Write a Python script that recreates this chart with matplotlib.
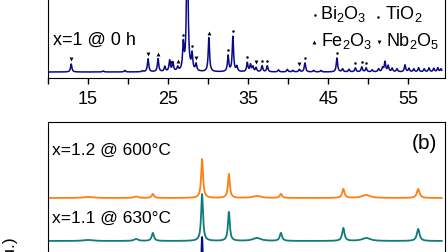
import numpy as np
import matplotlib
matplotlib.use('Agg')
import matplotlib.pyplot as plt

plt.rcParams['font.family'] = ['Liberation Sans', 'DejaVu Sans']
plt.rcParams['mathtext.default'] = 'regular'

# --- data: panel (a), x=1 @ 0 h (peak position in 2theta, height in a.u.)
a_pos = [12.9, 16.9, 19.6, 21.8, 22.5, 23.75, 24.6, 25.2, 25.6, 26.2, 26.9, 27.4,
         28.0, 28.5, 30.1, 32.5, 33.1, 33.6, 34.9, 35.3, 35.6, 36.0, 36.75, 37.4,
         38.8, 39.9, 40.6, 41.4, 42.1, 43.2, 44.1, 46.1, 46.8, 47.6, 48.4, 49.2,
         49.75, 50.5, 51.3, 51.8, 52.1, 52.5, 53.0, 53.6, 54.6, 55.1, 55.7, 56.3,
         57.0, 57.6, 58.2, 58.7, 59.1]
a_int = [8, 1, 1.5, 1, 13, 13, 5, 11, 9, 4, 26, 160,
         16, 7, 34, 16, 35, 5, 9, 7, 5, 4, 6, 6,
         2, 2.5, 1.5, 2.5, 9, 1.5, 1.5, 14, 3, 2.5, 4, 5,
         4, 2, 3, 4, 10, 6, 3.5, 3, 7, 3.5, 3, 4,
         3, 4, 3.5, 4, 3]

# phase markers (peak positions)
bi2o3_pos = [25.4, 26.9, 33.1, 42.1, 46.1]
tio2_pos = [28.0, 32.5, 34.9, 36.75, 37.4, 48.4, 49.2, 49.75]
fe2o3_pos = [23.75, 26.2, 30.1]
nb2o5_pos = [12.9, 22.5, 28.5, 36.0, 41.4]

# --- data: panel (b), calcined samples
b_pos = [15.0, 21.0, 23.1, 29.25, 32.6, 36.1, 39.1, 46.9, 49.75, 56.25]
b_width = [0.7, 0.3, 0.17, 0.14, 0.14, 0.6, 0.17, 0.17, 0.6, 0.2]
x12_int = [1, 1.5, 4, 39, 24, 2, 4, 9, 3, 9]
x11_int = [1, 2, 8, 47, 29, 3, 8, 13, 3, 12]
x10_int = [1, 2, 10, 63, 35, 3, 9, 15, 3, 14]
b_labels = ['x=1.2 @ 600°C', 'x=1.1 @ 630°C', 'x=1.0 @ 660°C']
b_offsets = [180, 137, 78]
b_colors = ['#ff7f10', '#0f7c7a', '#0a0a88']

tt = np.linspace(10, 59.2, 3000)


def pattern(pos, ints, widths):
    y = np.zeros_like(tt)
    for p, h, w in zip(pos, ints, widths):
        y += h / (1 + ((tt - p) / w) ** 2)
    return y


def px(x, y):
    return x / 448, 1 - y / 252


fig = plt.figure(figsize=(4.48, 2.52), dpi=100)

# top panel (a)
x0, y0 = px(48, 78)
x1, y1 = px(445, -22)
ax1 = fig.add_axes([x0, y0, x1 - x0, y1 - y0])
ya = pattern(a_pos, a_int, [0.1] * len(a_pos))
ax1.plot(tt, ya, color='#0a0a88', lw=1.1)

marks = [(bi2o3_pos, 'o', 1.8), (tio2_pos, 'o', 1.8), (fe2o3_pos, '^', 2.8), (nb2o5_pos, 'v', 2.8)]
for plist, m, ms in marks:
    yy = np.interp(plist, tt, ya) + 5
    ax1.plot(plist, yy, ls='none', marker=m, ms=ms, color='k', mew=0)

ax1.set_xlim(10, 59.6)
ax1.set_ylim(-6, 94)
ax1.set_xticks([15, 25, 35, 45, 55])
ax1.set_xticks([10, 20, 30, 40, 50], minor=True)
ax1.tick_params(axis='x', which='both', direction='out', length=4, width=1,
                labelsize=13, pad=5)
ax1.set_yticks([])
ax1.spines['top'].set_visible(False)

fig.text(*px(53, 45), 'x=1 @ 0 h', fontsize=13, va='baseline')

# legend of phases
leg = [(315, 15, 'o', 1.8, 'Bi$_2$O$_3$', 320, 19),
       (378, 17, 'o', 1.8, 'TiO$_2$', 385, 19),
       (314, 42, '^', 2.8, 'Fe$_2$O$_3$', 321, 46),
       (379, 42, 'v', 2.8, 'Nb$_2$O$_5$', 386, 46)]
for mx, my, m, ms, lab, tx, ty in leg:
    fig.lines.append(plt.Line2D([mx / 448], [1 - my / 252], ls='none', marker=m, ms=ms,
                                color='k', mew=0, transform=fig.transFigure))
    fig.text(*px(tx, ty), lab, fontsize=13, va='baseline')

# bottom panel (b)
x0, y0 = px(48, 378)
x1, y1 = px(445, 122)
ax2 = fig.add_axes([x0, y0, x1 - x0, y1 - y0])
for ints, off, c in zip([x12_int, x11_int, x10_int], b_offsets, b_colors):
    ax2.plot(tt, pattern(b_pos, ints, b_width) + off, color=c, lw=1.3)
ax2.set_xlim(10, 59.6)
ax2.set_ylim(0, 256)
ax2.set_xticks([])
ax2.set_yticks([])

fig.text(*px(52, 155), b_labels[0], fontsize=12.5, va='baseline')
fig.text(*px(52, 223), b_labels[1], fontsize=12.5, va='baseline')
fig.text(*px(437, 149), '(b)', fontsize=15, va='baseline', ha='right')
fig.text(*px(10, 237), 'Intensity (a.u.)', fontsize=12.5, rotation=90,
         ha='center', va='top')

fig.savefig('out.png', dpi=100)
